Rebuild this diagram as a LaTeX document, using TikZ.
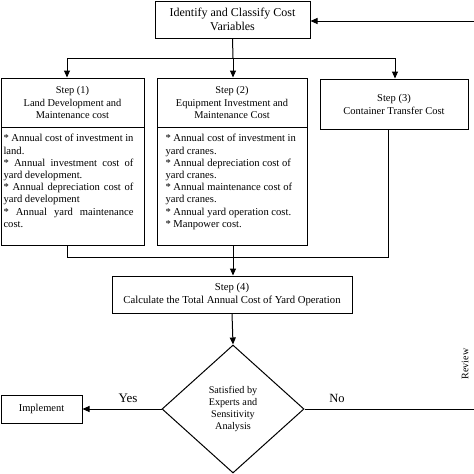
\documentclass[tikz,border=0pt]{standalone}
\usepackage{fontspec}
\setmainfont{Liberation Serif}
\usetikzlibrary{arrows.meta,shapes.geometric}
\newcommand{\jline}[1]{\makebox[130pt][s]{#1}\\}
\begin{document}
\begin{tikzpicture}[x=1pt,y=-1pt,
  line width=1pt,
  boxs/.style={draw, line width=1pt, inner sep=0pt, align=center, font=\fontsize{10.4}{12.5}\selectfont},
  bodys/.style={draw, line width=1pt, inner ysep=0pt, anchor=north west, font=\fontsize{10.6}{12.2}\selectfont},
  arr/.style={-{Triangle[length=7pt,width=6pt]}},
  lbl/.style={font=\fontsize{12.5}{14}\selectfont}
]
\useasboundingbox (0,0) rectangle (474,474);
% top box
\node[boxs, minimum width=155pt, minimum height=37pt, font=\fontsize{12}{13.5}\selectfont] (top) at (232.5,19.5) {Identify and Classify Cost\\Variables};
% step headers
\node[boxs, minimum width=143pt, minimum height=49pt] (s1) at (72.5,102.5) {Step (1)\\Land Development and\\Maintenance cost};
\node[boxs, minimum width=150pt, minimum height=49pt] (s2) at (232,102.5) {Step (2)\\Equipment Investment and\\Maintenance Cost};
\node[boxs, minimum width=148pt, minimum height=50pt, font=\fontsize{10.5}{13}\selectfont] (s3) at (394,104) {Step (3)\\Container Transfer Cost};
% bodies
\node[bodys, inner xsep=2pt] (b1) at (1,127) {\parbox[t][118pt][t]{139pt}{\vspace*{7pt}%
\jline{* Annual cost of investment in}
land.\\
\jline{* Annual investment cost of}
yard development.\\
\jline{* Annual depreciation cost of}
yard development\\
\jline{* Annual yard maintenance}
cost.}};
\node[bodys, inner xsep=0pt] (b2) at (157,127) {\parbox[t][118pt][t]{150pt}{\vspace*{7pt}\leftskip=8pt
{}* Annual cost of investment in\\
yard cranes.\\
{}* Annual depreciation cost of\\
yard cranes.\\
{}* Annual maintenance cost of\\
yard cranes.\\
{}* Annual yard operation cost.\\
{}* Manpower cost.}};
% step 4
\node[boxs, minimum width=240pt, minimum height=37pt, font=\fontsize{10.7}{12.5}\selectfont] (s4) at (232,294.5) {Step (4)\\Calculate the Total Annual Cost of Yard Operation};
% diamond
\node[draw, diamond, line width=1pt, inner sep=0pt, minimum width=142pt, minimum height=128pt, align=center, font=\fontsize{10.2}{12.2}\selectfont] (d) at (233,409) {\raisebox{2pt}{\shortstack{Satisfied by\\Experts and\\Sensitivity\\Analysis}}};
% implement
\node[boxs, minimum width=81pt, minimum height=28pt, font=\fontsize{10.5}{12}\selectfont] (impl) at (41.5,409) {Implement};
% connectors top
\coordinate (rin) at (474,21);
\draw[arr] (rin) -- (rin -| top.east);
\coordinate (j1) at (233,58);
\coordinate (a1) at (67,58);
\coordinate (a3) at (395,58);
\draw (top.south) -- (j1);
\draw (a1) -- (a3);
\draw[arr] (a1) -- (a1 |- s1.north);
\draw[arr] (j1) -- (j1 |- s2.north);
\draw[arr] (a3) -- (a3 |- s3.north);
% connectors bottom
\coordinate (c1) at (67,257.5);
\coordinate (c2) at (233,257.5);
\coordinate (c3) at (388,257.5);
\draw (c1 |- b1.south) -- (c1) -- (c3) -- (c3 |- s3.south);
\draw (c2 |- b2.south) -- (c2);
\draw[arr] (c2) -- (c2 |- s4.north);
\draw[arr] (s4.south) -- (d.north);
% decision
\draw[arr] (d.west) -- (impl.east);
\coordinate (rout) at (474,409);
\draw (d.east) -- (rout);
\node[lbl, font=\fontsize{13}{14}\selectfont] (yes) at (128,398) {Yes};
\node[lbl] (no) at (337,398) {No};
\node[lbl, rotate=90, font=\fontsize{10}{12}\selectfont] (rev) at (465,364) {Review};
\end{tikzpicture}
\end{document}
